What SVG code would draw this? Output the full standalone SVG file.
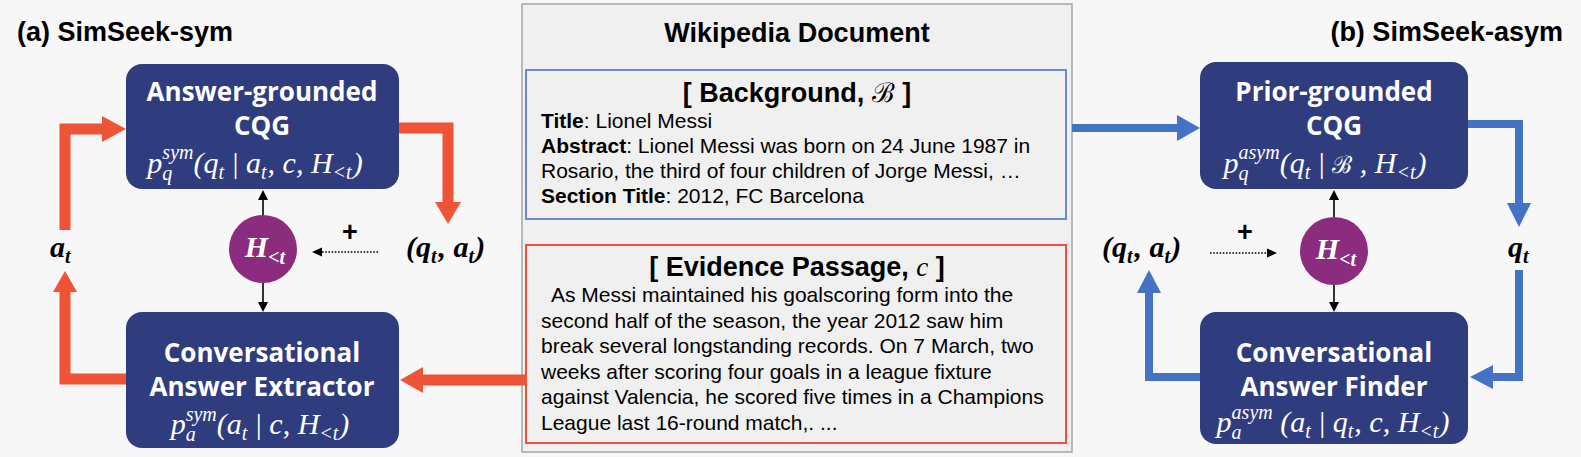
<svg xmlns="http://www.w3.org/2000/svg" width="1581" height="457" viewBox="0 0 1581 457">
<style>
.bg{fill:#f7f7f7}
.panel{fill:#f0f0f0;stroke:#a6a6a6;stroke-width:1.5}
.node{fill:#2f3d7f}
.circ{fill:#8b2c7e}
.nt{font-family:"Open Sans","Noto Sans",sans-serif;font-weight:700;font-size:26px;fill:#fff;text-anchor:middle}
.m{font-family:"Liberation Serif","DejaVu Serif",serif;font-style:italic;font-size:30px;fill:#fff}
.s{font-size:20px}
.up{font-style:normal}
.lbl{font-family:"Liberation Serif","DejaVu Serif",serif;font-style:italic;font-weight:700;font-size:30px;fill:#000}
.ttl{font-family:"Liberation Sans",Arial,sans-serif;font-weight:700;font-size:27px;fill:#000}
.body{font-family:"Liberation Sans",Arial,sans-serif;font-size:21px;fill:#000}
.b{font-weight:700}
.red{fill:none;stroke:#ef5436;stroke-width:11}
.redh{fill:#ef5436}
.blue{fill:none;stroke:#4472c4;stroke-width:8}
.blueh{fill:#4472c4}
.blk{fill:none;stroke:#000;stroke-width:1.6}
.dot{fill:none;stroke:#000;stroke-width:1.6;stroke-dasharray:1.6 1.6}
</style>
<rect class="bg" x="0" y="0" width="1581" height="457"/>

<text class="ttl" x="17" y="41" font-size="29">(a) SimSeek-sym</text>
<text class="ttl" x="1563" y="41" font-size="29" text-anchor="end">(b) SimSeek-asym</text>

<g id="document">
<rect class="panel" x="522" y="4" width="550" height="448"/>
<text class="ttl" x="797" y="42" text-anchor="middle">Wikipedia Document</text>
</g>

<g id="background">
<rect x="526" y="70" width="540" height="149" fill="none" stroke="#6d8cc7" stroke-width="2"/>
<text class="ttl" x="797" y="102" text-anchor="middle">[ Background, <tspan font-family="DejaVu Serif,serif" font-weight="400">ℬ</tspan> ]</text>
<text class="body" x="541" y="128"><tspan class="b">Title</tspan>: Lionel Messi</text>
<text class="body" x="541" y="153"><tspan class="b">Abstract</tspan>: Lionel Messi was born on 24 June 1987 in</text>
<text class="body" x="541" y="178">Rosario, the third of four children of Jorge Messi, …</text>
<text class="body" x="541" y="203"><tspan class="b">Section Title</tspan>: 2012, FC Barcelona</text>
</g>

<g id="evidence">
<rect x="526" y="245" width="540" height="198" fill="none" stroke="#e8553b" stroke-width="2"/>
<text class="ttl" x="797" y="276" text-anchor="middle">[ Evidence Passage, <tspan font-family="Liberation Serif,serif" font-style="italic" font-weight="400">c</tspan>  ]</text>
<text class="body" x="551" y="302">As Messi maintained his goalscoring form into the</text>
<text class="body" x="541" y="328">second half of the season, the year 2012 saw him</text>
<text class="body" x="541" y="353">break several longstanding records. On 7 March, two</text>
<text class="body" x="541" y="379">weeks after scoring four goals in a league fixture</text>
<text class="body" x="541" y="404">against Valencia, he scored five times in a Champions</text>
<text class="body" x="541" y="430">League last 16-round match,. ...</text>
</g>

<g id="connectors">
<path class="red" d="M126,379 H65 V291"/>
<polygon class="redh" points="53,292 77,292 65,271"/>
<path class="red" d="M65,230 V129 H103"/>
<polygon class="redh" points="102,116 102,142 126,129"/>
<path class="red" d="M399,128 H448 V203"/>
<polygon class="redh" points="435,202 461,202 448,224"/>
<path class="red" d="M526,380 H422"/>
<polygon class="redh" points="423,367 423,393 400,380"/>
<path class="blue" d="M1072,128 H1178"/>
<polygon class="blueh" points="1177,115 1177,141 1200,128"/>
<path class="blue" d="M1468,124 H1519 V204"/>
<polygon class="blueh" points="1507,203 1531,203 1519,227"/>
<path class="blue" d="M1519,270 V377 H1492"/>
<polygon class="blueh" points="1493,365 1493,389 1470,377"/>
<path class="blue" d="M1200,377 H1149 V292"/>
<polygon class="blueh" points="1137,293 1161,293 1149,270"/>
<path class="blk" d="M263,215 V199"/>
<polygon points="258,200 268,200 263,190"/>
<path class="blk" d="M263,283 V303"/>
<polygon points="258,302 268,302 263,312"/>
<path class="blk" d="M1334,217 V199"/>
<polygon points="1329,200 1339,200 1334,190"/>
<path class="blk" d="M1334,285 V303"/>
<polygon points="1329,302 1339,302 1334,312"/>
<path class="dot" d="M378,252 H321"/>
<polygon points="322,247.5 322,256.5 312,252"/>
<path class="dot" d="M1210,253 H1268"/>
<polygon points="1267,248.5 1267,257.5 1277,253"/>
<text class="ttl" x="350" y="241" font-size="22" text-anchor="middle">+</text>
<text class="ttl" x="1245" y="241" font-size="22" text-anchor="middle">+</text>
</g>

<g id="label-at">
<text class="lbl" x="50" y="257">a<tspan class="s" dy="6">t</tspan></text>
</g>
<g id="label-qa-left">
<text class="lbl" x="406" y="257">(q<tspan class="s" dy="6">t</tspan><tspan dx="2" dy="-6">, a</tspan><tspan class="s" dy="6">t</tspan><tspan dx="1" dy="-6">)</tspan></text>
</g>
<g id="label-qa-right">
<text class="lbl" x="1102" y="257">(q<tspan class="s" dy="6">t</tspan><tspan dx="2" dy="-6">, a</tspan><tspan class="s" dy="6">t</tspan><tspan dx="1" dy="-6">)</tspan></text>
</g>
<g id="label-qt">
<text class="lbl" x="1508" y="257">q<tspan class="s" dy="6">t</tspan></text>
</g>

<g id="history-sym">
<circle class="circ" cx="263" cy="249" r="34"/>
<text class="lbl" x="265" y="257" text-anchor="middle" style="fill:#fff">H<tspan class="s" dy="7">&lt;t</tspan></text>
</g>
<g id="history-asym">
<circle class="circ" cx="1334" cy="251" r="34"/>
<text class="lbl" x="1336" y="259" text-anchor="middle" style="fill:#fff">H<tspan class="s" dy="7">&lt;t</tspan></text>
</g>

<g id="answer-grounded-cqg">
<rect class="node" x="126" y="64" width="273" height="125" rx="16"/>
<text class="nt" x="262" y="101">Answer-grounded</text>
<text class="nt" x="262" y="135">CQG</text>
<text class="m" x="255" y="173" text-anchor="middle">p<tspan class="s" dy="7">q</tspan><tspan class="s" dx="-10" dy="-21">sym</tspan><tspan dy="14">(q</tspan><tspan class="s" dy="6">t</tspan><tspan dx="1" dy="-6"> <tspan class="up">|</tspan> a</tspan><tspan class="s" dy="6">t</tspan><tspan dx="1" dy="-6">, c, H</tspan><tspan class="s" dy="6">&lt;t</tspan><tspan dx="1" dy="-6">)</tspan></text>
</g>

<g id="answer-extractor">
<rect class="node" x="126" y="312" width="273" height="136" rx="16"/>
<text class="nt" x="262" y="362">Conversational</text>
<text class="nt" x="262" y="396">Answer Extractor</text>
<text class="m" x="260" y="434" text-anchor="middle">p<tspan class="s" dy="7">a</tspan><tspan class="s" dx="-10" dy="-20">sym</tspan><tspan dy="13">(a</tspan><tspan class="s" dy="6">t</tspan><tspan dx="1" dy="-6"> <tspan class="up">|</tspan> c, H</tspan><tspan class="s" dy="6">&lt;t</tspan><tspan dx="1" dy="-6">)</tspan></text>
</g>

<g id="prior-grounded-cqg">
<rect class="node" x="1200" y="62" width="268" height="127" rx="16"/>
<text class="nt" x="1334" y="101">Prior-grounded</text>
<text class="nt" x="1334" y="135">CQG</text>
<text class="m" x="1325" y="173" text-anchor="middle">p<tspan class="s" dy="7">q</tspan><tspan class="s" dx="-10" dy="-21">asym</tspan><tspan dy="14">(q</tspan><tspan class="s" dy="6">t</tspan><tspan dx="1" dy="-6"> <tspan class="up">|</tspan> <tspan font-family="DejaVu Serif,serif" font-style="normal" font-size="24">ℬ</tspan> , H</tspan><tspan class="s" dy="6">&lt;t</tspan><tspan dx="1" dy="-6">)</tspan></text>
</g>

<g id="answer-finder">
<rect class="node" x="1200" y="312" width="268" height="132" rx="16"/>
<text class="nt" x="1334" y="362">Conversational</text>
<text class="nt" x="1334" y="396">Answer Finder</text>
<text class="m" x="1333" y="432" text-anchor="middle">p<tspan class="s" dy="7">a</tspan><tspan class="s" dx="-10" dy="-20">asym</tspan><tspan dy="13"> (a</tspan><tspan class="s" dy="6">t</tspan><tspan dx="1" dy="-6"> <tspan class="up">|</tspan> q</tspan><tspan class="s" dy="6">t</tspan><tspan dx="1" dy="-6">, c, H</tspan><tspan class="s" dy="6">&lt;t</tspan><tspan dx="1" dy="-6">)</tspan></text>
</g>
</svg>
